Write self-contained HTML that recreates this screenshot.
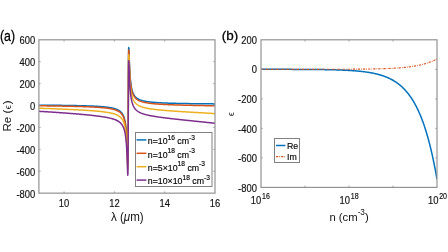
<!DOCTYPE html>
<html><head><meta charset="utf-8"><title>Figure</title>
<style>html,body{margin:0;padding:0;background:#fff;}svg{display:block;filter:blur(0.3px);}</style>
</head><body>
<svg width="448" height="252" viewBox="0 0 448 252" font-family="Liberation Sans, Arial, sans-serif">
<rect width="448" height="252" fill="#fff"/>
<clipPath id="ca"><rect x="38.9" y="39.8" width="176.1" height="153.35000000000002"/></clipPath>
<g clip-path="url(#ca)" fill="none" stroke-width="1.5" stroke-linejoin="round">
<path d="M38.90 105.17 L39.40 105.17 L39.91 105.17 L40.41 105.18 L40.91 105.18 L41.42 105.18 L41.92 105.19 L42.42 105.19 L42.93 105.19 L43.43 105.20 L43.93 105.20 L44.43 105.21 L44.94 105.21 L45.44 105.21 L45.94 105.22 L46.45 105.22 L46.95 105.23 L47.45 105.23 L47.96 105.23 L48.46 105.24 L48.96 105.24 L49.47 105.25 L49.97 105.25 L50.47 105.26 L50.98 105.26 L51.48 105.27 L51.98 105.27 L52.48 105.28 L52.99 105.28 L53.49 105.29 L53.99 105.29 L54.50 105.30 L55.00 105.30 L55.50 105.31 L56.01 105.31 L56.51 105.32 L57.01 105.32 L57.52 105.33 L58.02 105.33 L58.52 105.34 L59.03 105.34 L59.53 105.35 L60.03 105.36 L60.54 105.36 L61.04 105.37 L61.54 105.37 L62.04 105.38 L62.55 105.39 L63.05 105.39 L63.55 105.40 L64.06 105.41 L64.56 105.41 L65.06 105.42 L65.57 105.43 L66.07 105.43 L66.57 105.44 L67.08 105.45 L67.58 105.46 L68.08 105.46 L68.59 105.47 L69.09 105.48 L69.59 105.49 L70.09 105.50 L70.60 105.50 L71.10 105.51 L71.60 105.52 L72.11 105.53 L72.61 105.54 L73.11 105.55 L73.62 105.56 L74.12 105.57 L74.62 105.58 L75.13 105.59 L75.63 105.60 L76.13 105.61 L76.64 105.62 L77.14 105.63 L77.64 105.64 L78.15 105.65 L78.65 105.66 L79.15 105.67 L79.65 105.68 L80.16 105.69 L80.66 105.71 L81.16 105.72 L81.67 105.73 L82.17 105.74 L82.67 105.76 L83.18 105.77 L83.68 105.78 L84.18 105.80 L84.69 105.81 L85.19 105.83 L85.69 105.84 L86.20 105.86 L86.70 105.88 L87.20 105.89 L87.70 105.91 L88.21 105.93 L88.71 105.94 L89.21 105.96 L89.72 105.98 L90.22 106.00 L90.72 106.02 L91.23 106.04 L91.73 106.06 L92.23 106.08 L92.74 106.10 L93.24 106.12 L93.74 106.15 L94.25 106.17 L94.75 106.19 L95.25 106.22 L95.76 106.25 L96.26 106.27 L96.76 106.30 L97.26 106.33 L97.77 106.36 L98.27 106.39 L98.77 106.42 L99.28 106.45 L99.78 106.49 L100.28 106.52 L100.79 106.56 L101.29 106.60 L101.79 106.63 L102.30 106.68 L102.80 106.72 L103.30 106.76 L103.81 106.81 L104.31 106.85 L104.81 106.90 L105.31 106.96 L105.82 107.01 L106.32 107.07 L106.82 107.13 L107.33 107.19 L107.83 107.25 L108.33 107.32 L108.84 107.39 L109.34 107.47 L109.84 107.55 L110.35 107.63 L110.85 107.72 L111.35 107.82 L111.86 107.92 L112.36 108.02 L112.86 108.14 L113.37 108.26 L113.87 108.39 L114.37 108.53 L114.87 108.67 L115.38 108.84 L115.88 109.01 L116.38 109.20 L116.89 109.40 L117.39 109.63 L117.89 109.87 L118.40 110.14 L118.90 110.44 L119.40 110.77 L119.91 111.14 L120.41 111.56 L120.91 112.04 L121.42 112.58 L121.92 113.21 L122.35 113.83 L122.72 114.45 L123.05 115.06 L123.35 115.69 L123.63 116.34 L123.88 116.99 L124.11 117.65 L124.31 118.29 L124.48 118.91 L124.66 119.59 L124.81 120.21 L124.96 120.90 L125.09 121.51 L125.21 122.17 L125.34 122.89 L125.44 123.50 L125.54 124.15 L125.64 124.85 L125.74 125.60 L125.84 126.40 L125.92 127.04 L125.99 127.72 L126.07 128.44 L126.14 129.20 L126.22 130.01 L126.30 130.87 L126.35 131.48 L126.40 132.11 L126.45 132.76 L126.50 133.45 L126.55 134.17 L126.60 134.92 L126.65 135.71 L126.70 136.53 L126.75 137.39 L126.80 138.29 L126.85 139.24 L126.90 140.23 L126.95 141.27 L127.00 142.36 L127.05 143.50 L127.10 144.70 L127.13 145.32 L127.15 145.95 L127.18 146.59 L127.20 147.25 L127.23 147.92 L127.25 148.61 L127.28 149.31 L127.30 150.01 L127.33 150.73 L127.35 151.47 L127.38 152.21 L127.40 152.95 L127.43 153.71 L127.45 154.46 L127.48 155.22 L127.50 155.97 L127.53 156.72 L127.55 157.46 L127.58 158.18 L127.60 158.88 L127.63 159.54 L127.65 160.17 L127.70 161.27 L127.76 162.06 L127.91 161.06 L127.93 160.13 L127.96 158.90 L127.98 157.33 L128.01 155.39 L128.03 153.05 L128.06 150.28 L128.08 147.07 L128.11 143.40 L128.13 139.28 L128.16 134.71 L128.18 129.74 L128.21 124.40 L128.23 118.76 L128.26 112.91 L128.28 106.92 L128.31 100.90 L128.33 94.94 L128.36 89.14 L128.38 83.58 L128.41 78.34 L128.43 73.47 L128.46 69.03 L128.48 65.03 L128.51 61.49 L128.53 58.40 L128.56 55.75 L128.59 53.52 L128.61 51.68 L128.64 50.20 L128.66 49.05 L128.69 48.19 L128.71 47.59 L128.89 48.24 L128.94 49.35 L128.96 49.98 L128.99 50.65 L129.01 51.34 L129.04 52.06 L129.06 52.79 L129.09 53.53 L129.11 54.28 L129.14 55.03 L129.16 55.78 L129.19 56.52 L129.21 57.26 L129.24 57.99 L129.26 58.71 L129.29 59.42 L129.31 60.12 L129.34 60.81 L129.37 61.49 L129.39 62.15 L129.42 62.80 L129.44 63.43 L129.47 64.06 L129.49 64.67 L129.54 65.85 L129.59 66.97 L129.64 68.05 L129.69 69.08 L129.74 70.06 L129.79 70.99 L129.84 71.88 L129.89 72.74 L129.94 73.55 L129.99 74.33 L130.04 75.07 L130.09 75.78 L130.14 76.46 L130.20 77.11 L130.25 77.73 L130.32 78.62 L130.40 79.46 L130.47 80.24 L130.55 80.98 L130.62 81.68 L130.70 82.34 L130.77 82.97 L130.87 83.75 L130.98 84.48 L131.08 85.16 L131.18 85.80 L131.30 86.54 L131.43 87.23 L131.55 87.87 L131.70 88.57 L131.86 89.22 L132.01 89.82 L132.18 90.47 L132.38 91.14 L132.59 91.75 L132.81 92.38 L133.06 93.01 L133.34 93.63 L133.64 94.23 L133.99 94.86 L134.40 95.49 L134.85 96.11 L135.35 96.70 L135.86 97.22 L136.36 97.67 L136.86 98.07 L137.37 98.43 L137.87 98.75 L138.37 99.03 L138.87 99.29 L139.38 99.53 L139.88 99.75 L140.38 99.95 L140.89 100.13 L141.39 100.30 L141.89 100.45 L142.40 100.60 L142.90 100.73 L143.40 100.86 L143.91 100.98 L144.41 101.09 L144.91 101.19 L145.42 101.29 L145.92 101.38 L146.42 101.47 L146.92 101.55 L147.43 101.63 L147.93 101.71 L148.43 101.78 L148.94 101.84 L149.44 101.91 L149.94 101.97 L150.45 102.03 L150.95 102.08 L151.45 102.14 L151.96 102.19 L152.46 102.24 L152.96 102.28 L153.47 102.33 L153.97 102.37 L154.47 102.41 L154.98 102.45 L155.48 102.49 L155.98 102.53 L156.48 102.56 L156.99 102.60 L157.49 102.63 L157.99 102.66 L158.50 102.69 L159.00 102.72 L159.50 102.75 L160.01 102.78 L160.51 102.81 L161.01 102.84 L161.52 102.86 L162.02 102.89 L162.52 102.91 L163.03 102.93 L163.53 102.96 L164.03 102.98 L164.53 103.00 L165.04 103.02 L165.54 103.04 L166.04 103.06 L166.55 103.08 L167.05 103.10 L167.55 103.12 L168.06 103.14 L168.56 103.15 L169.06 103.17 L169.57 103.19 L170.07 103.20 L170.57 103.22 L171.08 103.23 L171.58 103.25 L172.08 103.26 L172.59 103.28 L173.09 103.29 L173.59 103.31 L174.09 103.32 L174.60 103.33 L175.10 103.35 L175.60 103.36 L176.11 103.37 L176.61 103.38 L177.11 103.39 L177.62 103.41 L178.12 103.42 L178.62 103.43 L179.13 103.44 L179.63 103.45 L180.13 103.46 L180.64 103.47 L181.14 103.48 L181.64 103.49 L182.14 103.50 L182.65 103.51 L183.15 103.52 L183.65 103.53 L184.16 103.54 L184.66 103.55 L185.16 103.56 L185.67 103.56 L186.17 103.57 L186.67 103.58 L187.18 103.59 L187.68 103.60 L188.18 103.60 L188.69 103.61 L189.19 103.62 L189.69 103.63 L190.20 103.63 L190.70 103.64 L191.20 103.65 L191.70 103.66 L192.21 103.66 L192.71 103.67 L193.21 103.68 L193.72 103.68 L194.22 103.69 L194.72 103.70 L195.23 103.70 L195.73 103.71 L196.23 103.71 L196.74 103.72 L197.24 103.73 L197.74 103.73 L198.25 103.74 L198.75 103.74 L199.25 103.75 L199.75 103.75 L200.26 103.76 L200.76 103.77 L201.26 103.77 L201.77 103.78 L202.27 103.78 L202.77 103.79 L203.28 103.79 L203.78 103.80 L204.28 103.80 L204.79 103.81 L205.29 103.81 L205.79 103.82 L206.30 103.82 L206.80 103.82 L207.30 103.83 L207.81 103.83 L208.31 103.84 L208.81 103.84 L209.31 103.85 L209.82 103.85 L210.32 103.85 L210.82 103.86 L211.33 103.86 L211.83 103.87 L212.33 103.87 L212.84 103.87 L213.34 103.88 L213.84 103.88 L214.35 103.89 L214.85 103.89 L215.00 103.89" stroke="#0072BD"/>
<path d="M38.90 105.77 L39.40 105.78 L39.91 105.79 L40.41 105.79 L40.91 105.80 L41.42 105.80 L41.92 105.81 L42.42 105.82 L42.93 105.82 L43.43 105.83 L43.93 105.84 L44.43 105.84 L44.94 105.85 L45.44 105.86 L45.94 105.86 L46.45 105.87 L46.95 105.88 L47.45 105.88 L47.96 105.89 L48.46 105.90 L48.96 105.91 L49.47 105.91 L49.97 105.92 L50.47 105.93 L50.98 105.93 L51.48 105.94 L51.98 105.95 L52.48 105.96 L52.99 105.97 L53.49 105.97 L53.99 105.98 L54.50 105.99 L55.00 106.00 L55.50 106.00 L56.01 106.01 L56.51 106.02 L57.01 106.03 L57.52 106.04 L58.02 106.05 L58.52 106.06 L59.03 106.06 L59.53 106.07 L60.03 106.08 L60.54 106.09 L61.04 106.10 L61.54 106.11 L62.04 106.12 L62.55 106.13 L63.05 106.14 L63.55 106.15 L64.06 106.16 L64.56 106.17 L65.06 106.18 L65.57 106.19 L66.07 106.20 L66.57 106.21 L67.08 106.22 L67.58 106.23 L68.08 106.24 L68.59 106.25 L69.09 106.26 L69.59 106.27 L70.09 106.28 L70.60 106.29 L71.10 106.30 L71.60 106.32 L72.11 106.33 L72.61 106.34 L73.11 106.35 L73.62 106.36 L74.12 106.38 L74.62 106.39 L75.13 106.40 L75.63 106.42 L76.13 106.43 L76.64 106.44 L77.14 106.46 L77.64 106.47 L78.15 106.48 L78.65 106.50 L79.15 106.51 L79.65 106.53 L80.16 106.54 L80.66 106.56 L81.16 106.57 L81.67 106.59 L82.17 106.61 L82.67 106.62 L83.18 106.64 L83.68 106.66 L84.18 106.67 L84.69 106.69 L85.19 106.71 L85.69 106.73 L86.20 106.75 L86.70 106.77 L87.20 106.78 L87.70 106.80 L88.21 106.83 L88.71 106.85 L89.21 106.87 L89.72 106.89 L90.22 106.91 L90.72 106.93 L91.23 106.96 L91.73 106.98 L92.23 107.01 L92.74 107.03 L93.24 107.06 L93.74 107.08 L94.25 107.11 L94.75 107.14 L95.25 107.17 L95.76 107.20 L96.26 107.23 L96.76 107.26 L97.26 107.29 L97.77 107.32 L98.27 107.36 L98.77 107.39 L99.28 107.43 L99.78 107.46 L100.28 107.50 L100.79 107.54 L101.29 107.58 L101.79 107.63 L102.30 107.67 L102.80 107.72 L103.30 107.76 L103.81 107.81 L104.31 107.86 L104.81 107.92 L105.31 107.97 L105.82 108.03 L106.32 108.09 L106.82 108.15 L107.33 108.22 L107.83 108.29 L108.33 108.36 L108.84 108.43 L109.34 108.51 L109.84 108.59 L110.35 108.68 L110.85 108.78 L111.35 108.87 L111.86 108.98 L112.36 109.09 L112.86 109.20 L113.37 109.33 L113.87 109.46 L114.37 109.60 L114.87 109.76 L115.38 109.92 L115.88 110.10 L116.38 110.29 L116.89 110.50 L117.39 110.73 L117.89 110.98 L118.40 111.25 L118.90 111.55 L119.40 111.89 L119.91 112.26 L120.41 112.69 L120.91 113.16 L121.42 113.71 L121.92 114.34 L122.35 114.96 L122.72 115.59 L123.05 116.20 L123.35 116.83 L123.63 117.49 L123.88 118.15 L124.11 118.82 L124.31 119.47 L124.48 120.10 L124.66 120.79 L124.81 121.44 L124.96 122.14 L125.09 122.77 L125.21 123.46 L125.34 124.20 L125.44 124.84 L125.54 125.52 L125.64 126.25 L125.74 127.03 L125.82 127.65 L125.89 128.31 L125.97 129.00 L126.04 129.74 L126.12 130.52 L126.20 131.35 L126.27 132.23 L126.32 132.84 L126.37 133.48 L126.42 134.15 L126.47 134.85 L126.52 135.58 L126.57 136.34 L126.62 137.14 L126.67 137.97 L126.72 138.84 L126.77 139.75 L126.82 140.70 L126.87 141.70 L126.92 142.75 L126.98 143.84 L127.03 144.98 L127.08 146.18 L127.10 146.80 L127.13 147.43 L127.15 148.07 L127.18 148.73 L127.20 149.40 L127.23 150.09 L127.25 150.79 L127.28 151.50 L127.30 152.22 L127.33 152.95 L127.35 153.70 L127.38 154.45 L127.40 155.21 L127.43 155.97 L127.45 156.74 L127.48 157.51 L127.50 158.28 L127.53 159.04 L127.55 159.78 L127.58 160.51 L127.60 161.22 L127.63 161.90 L127.65 162.54 L127.70 163.65 L127.76 164.46 L127.91 163.50 L127.93 162.58 L127.96 161.35 L127.98 159.79 L128.01 157.86 L128.03 155.52 L128.06 152.76 L128.08 149.55 L128.11 145.89 L128.13 141.76 L128.16 137.20 L128.18 132.23 L128.21 126.89 L128.23 121.26 L128.26 115.40 L128.28 109.41 L128.31 103.39 L128.33 97.43 L128.36 91.63 L128.38 86.07 L128.41 80.83 L128.43 75.96 L128.46 71.52 L128.48 67.51 L128.51 63.97 L128.53 60.88 L128.56 58.22 L128.59 55.99 L128.61 54.15 L128.64 52.66 L128.66 51.51 L128.69 50.64 L128.71 50.03 L128.89 50.63 L128.94 51.72 L128.96 52.34 L128.99 53.00 L129.01 53.68 L129.04 54.39 L129.06 55.11 L129.09 55.84 L129.11 56.58 L129.14 57.32 L129.16 58.05 L129.19 58.79 L129.21 59.51 L129.24 60.23 L129.26 60.94 L129.29 61.64 L129.31 62.33 L129.34 63.00 L129.37 63.66 L129.39 64.31 L129.42 64.95 L129.44 65.57 L129.47 66.18 L129.52 67.36 L129.57 68.49 L129.62 69.56 L129.67 70.58 L129.72 71.56 L129.77 72.49 L129.82 73.38 L129.87 74.22 L129.92 75.02 L129.97 75.79 L130.02 76.53 L130.07 77.23 L130.12 77.89 L130.17 78.53 L130.22 79.15 L130.30 80.02 L130.37 80.83 L130.45 81.60 L130.52 82.32 L130.60 83.00 L130.67 83.65 L130.75 84.26 L130.85 85.02 L130.95 85.73 L131.05 86.40 L131.15 87.02 L131.28 87.75 L131.40 88.42 L131.53 89.05 L131.68 89.74 L131.83 90.39 L132.01 91.08 L132.18 91.71 L132.38 92.37 L132.59 92.98 L132.81 93.60 L133.06 94.23 L133.34 94.85 L133.64 95.45 L133.99 96.08 L134.40 96.72 L134.85 97.34 L135.35 97.93 L135.86 98.46 L136.36 98.91 L136.86 99.32 L137.37 99.68 L137.87 100.00 L138.37 100.29 L138.87 100.56 L139.38 100.80 L139.88 101.02 L140.38 101.22 L140.89 101.41 L141.39 101.58 L141.89 101.74 L142.40 101.89 L142.90 102.03 L143.40 102.16 L143.91 102.28 L144.41 102.39 L144.91 102.50 L145.42 102.60 L145.92 102.70 L146.42 102.79 L146.92 102.88 L147.43 102.96 L147.93 103.04 L148.43 103.11 L148.94 103.18 L149.44 103.25 L149.94 103.32 L150.45 103.38 L150.95 103.44 L151.45 103.50 L151.96 103.55 L152.46 103.60 L152.96 103.65 L153.47 103.70 L153.97 103.75 L154.47 103.80 L154.98 103.84 L155.48 103.88 L155.98 103.92 L156.48 103.96 L156.99 104.00 L157.49 104.04 L157.99 104.08 L158.50 104.11 L159.00 104.15 L159.50 104.18 L160.01 104.21 L160.51 104.24 L161.01 104.27 L161.52 104.30 L162.02 104.33 L162.52 104.36 L163.03 104.39 L163.53 104.42 L164.03 104.44 L164.53 104.47 L165.04 104.49 L165.54 104.52 L166.04 104.54 L166.55 104.56 L167.05 104.59 L167.55 104.61 L168.06 104.63 L168.56 104.65 L169.06 104.68 L169.57 104.70 L170.07 104.72 L170.57 104.74 L171.08 104.76 L171.58 104.78 L172.08 104.80 L172.59 104.81 L173.09 104.83 L173.59 104.85 L174.09 104.87 L174.60 104.89 L175.10 104.90 L175.60 104.92 L176.11 104.94 L176.61 104.95 L177.11 104.97 L177.62 104.98 L178.12 105.00 L178.62 105.02 L179.13 105.03 L179.63 105.05 L180.13 105.06 L180.64 105.08 L181.14 105.09 L181.64 105.10 L182.14 105.12 L182.65 105.13 L183.15 105.15 L183.65 105.16 L184.16 105.17 L184.66 105.19 L185.16 105.20 L185.67 105.21 L186.17 105.23 L186.67 105.24 L187.18 105.25 L187.68 105.26 L188.18 105.28 L188.69 105.29 L189.19 105.30 L189.69 105.31 L190.20 105.32 L190.70 105.34 L191.20 105.35 L191.70 105.36 L192.21 105.37 L192.71 105.38 L193.21 105.39 L193.72 105.40 L194.22 105.41 L194.72 105.43 L195.23 105.44 L195.73 105.45 L196.23 105.46 L196.74 105.47 L197.24 105.48 L197.74 105.49 L198.25 105.50 L198.75 105.51 L199.25 105.52 L199.75 105.53 L200.26 105.54 L200.76 105.55 L201.26 105.56 L201.77 105.57 L202.27 105.58 L202.77 105.59 L203.28 105.60 L203.78 105.61 L204.28 105.62 L204.79 105.63 L205.29 105.64 L205.79 105.65 L206.30 105.66 L206.80 105.67 L207.30 105.67 L207.81 105.68 L208.31 105.69 L208.81 105.70 L209.31 105.71 L209.82 105.72 L210.32 105.73 L210.82 105.74 L211.33 105.75 L211.83 105.76 L212.33 105.76 L212.84 105.77 L213.34 105.78 L213.84 105.79 L214.35 105.80 L214.85 105.81 L215.00 105.81" stroke="#D95319"/>
<path d="M38.90 108.23 L39.40 108.24 L39.91 108.26 L40.41 108.28 L40.91 108.29 L41.42 108.31 L41.92 108.33 L42.42 108.35 L42.93 108.36 L43.43 108.38 L43.93 108.40 L44.43 108.42 L44.94 108.43 L45.44 108.45 L45.94 108.47 L46.45 108.49 L46.95 108.51 L47.45 108.53 L47.96 108.54 L48.46 108.56 L48.96 108.58 L49.47 108.60 L49.97 108.62 L50.47 108.64 L50.98 108.66 L51.48 108.67 L51.98 108.69 L52.48 108.71 L52.99 108.73 L53.49 108.75 L53.99 108.77 L54.50 108.79 L55.00 108.81 L55.50 108.83 L56.01 108.85 L56.51 108.87 L57.01 108.89 L57.52 108.91 L58.02 108.93 L58.52 108.95 L59.03 108.97 L59.53 108.99 L60.03 109.01 L60.54 109.03 L61.04 109.05 L61.54 109.08 L62.04 109.10 L62.55 109.12 L63.05 109.14 L63.55 109.16 L64.06 109.18 L64.56 109.21 L65.06 109.23 L65.57 109.25 L66.07 109.27 L66.57 109.29 L67.08 109.32 L67.58 109.34 L68.08 109.36 L68.59 109.39 L69.09 109.41 L69.59 109.43 L70.09 109.46 L70.60 109.48 L71.10 109.50 L71.60 109.53 L72.11 109.55 L72.61 109.58 L73.11 109.60 L73.62 109.63 L74.12 109.65 L74.62 109.68 L75.13 109.70 L75.63 109.73 L76.13 109.75 L76.64 109.78 L77.14 109.81 L77.64 109.83 L78.15 109.86 L78.65 109.89 L79.15 109.91 L79.65 109.94 L80.16 109.97 L80.66 110.00 L81.16 110.03 L81.67 110.06 L82.17 110.08 L82.67 110.11 L83.18 110.14 L83.68 110.17 L84.18 110.20 L84.69 110.24 L85.19 110.27 L85.69 110.30 L86.20 110.33 L86.70 110.36 L87.20 110.40 L87.70 110.43 L88.21 110.46 L88.71 110.50 L89.21 110.53 L89.72 110.57 L90.22 110.60 L90.72 110.64 L91.23 110.67 L91.73 110.71 L92.23 110.75 L92.74 110.79 L93.24 110.83 L93.74 110.87 L94.25 110.91 L94.75 110.95 L95.25 110.99 L95.76 111.03 L96.26 111.08 L96.76 111.12 L97.26 111.17 L97.77 111.22 L98.27 111.26 L98.77 111.31 L99.28 111.36 L99.78 111.41 L100.28 111.46 L100.79 111.52 L101.29 111.57 L101.79 111.63 L102.30 111.69 L102.80 111.75 L103.30 111.81 L103.81 111.87 L104.31 111.94 L104.81 112.00 L105.31 112.07 L105.82 112.14 L106.32 112.22 L106.82 112.30 L107.33 112.38 L107.83 112.46 L108.33 112.54 L108.84 112.63 L109.34 112.73 L109.84 112.82 L110.35 112.93 L110.85 113.03 L111.35 113.15 L111.86 113.26 L112.36 113.39 L112.86 113.52 L113.37 113.66 L113.87 113.81 L114.37 113.96 L114.87 114.13 L115.38 114.31 L115.88 114.50 L116.38 114.71 L116.89 114.93 L117.39 115.17 L117.89 115.44 L118.40 115.73 L118.90 116.04 L119.40 116.39 L119.91 116.78 L120.41 117.22 L120.91 117.71 L121.42 118.28 L121.89 118.89 L122.32 119.52 L122.70 120.15 L123.03 120.76 L123.33 121.40 L123.60 122.06 L123.86 122.72 L124.08 123.38 L124.28 124.04 L124.46 124.66 L124.64 125.35 L124.79 125.99 L124.94 126.69 L125.06 127.32 L125.19 127.99 L125.31 128.73 L125.42 129.36 L125.52 130.03 L125.62 130.75 L125.72 131.52 L125.79 132.13 L125.87 132.78 L125.94 133.47 L126.02 134.19 L126.09 134.96 L126.17 135.77 L126.25 136.64 L126.30 137.24 L126.35 137.87 L126.40 138.53 L126.45 139.21 L126.50 139.93 L126.55 140.68 L126.60 141.46 L126.65 142.27 L126.70 143.12 L126.75 144.02 L126.80 144.95 L126.85 145.92 L126.90 146.95 L126.95 148.02 L127.00 149.14 L127.05 150.31 L127.08 150.91 L127.10 151.53 L127.13 152.16 L127.15 152.81 L127.18 153.47 L127.20 154.14 L127.23 154.83 L127.25 155.53 L127.28 156.24 L127.30 156.96 L127.33 157.70 L127.35 158.44 L127.38 159.19 L127.40 159.95 L127.43 160.72 L127.45 161.49 L127.48 162.26 L127.50 163.02 L127.53 163.78 L127.55 164.53 L127.58 165.26 L127.60 165.97 L127.63 166.65 L127.65 167.29 L127.70 168.40 L127.76 169.21 L127.91 168.26 L127.93 167.34 L127.96 166.11 L127.98 164.55 L128.01 162.62 L128.03 160.29 L128.06 157.52 L128.08 154.32 L128.11 150.65 L128.13 146.53 L128.16 141.97 L128.18 136.99 L128.21 131.66 L128.23 126.02 L128.26 120.17 L128.28 114.18 L128.31 108.16 L128.33 102.20 L128.36 96.40 L128.38 90.84 L128.41 85.60 L128.43 80.74 L128.46 76.29 L128.48 72.29 L128.51 68.75 L128.53 65.65 L128.56 63.00 L128.59 60.77 L128.61 58.93 L128.64 57.45 L128.66 56.29 L128.69 55.42 L128.71 54.81 L128.89 55.42 L128.94 56.51 L128.96 57.13 L128.99 57.79 L129.01 58.48 L129.04 59.18 L129.06 59.90 L129.09 60.64 L129.11 61.37 L129.14 62.11 L129.16 62.85 L129.19 63.58 L129.21 64.31 L129.24 65.03 L129.26 65.74 L129.29 66.44 L129.31 67.13 L129.34 67.80 L129.37 68.47 L129.39 69.12 L129.42 69.76 L129.44 70.38 L129.47 70.99 L129.52 72.17 L129.57 73.30 L129.62 74.37 L129.67 75.40 L129.72 76.37 L129.77 77.31 L129.82 78.19 L129.87 79.04 L129.92 79.85 L129.97 80.61 L130.02 81.35 L130.07 82.05 L130.12 82.72 L130.17 83.36 L130.22 83.98 L130.30 84.85 L130.37 85.67 L130.45 86.44 L130.52 87.16 L130.60 87.85 L130.67 88.49 L130.75 89.10 L130.85 89.87 L130.95 90.58 L131.05 91.25 L131.15 91.88 L131.28 92.61 L131.40 93.28 L131.53 93.92 L131.68 94.62 L131.83 95.26 L131.98 95.87 L132.16 96.51 L132.36 97.19 L132.56 97.81 L132.79 98.44 L133.04 99.08 L133.31 99.72 L133.62 100.34 L133.94 100.94 L134.32 101.56 L134.75 102.17 L135.23 102.78 L135.73 103.33 L136.23 103.82 L136.74 104.25 L137.24 104.64 L137.74 104.98 L138.25 105.30 L138.75 105.58 L139.25 105.85 L139.75 106.09 L140.26 106.31 L140.76 106.52 L141.26 106.71 L141.77 106.89 L142.27 107.05 L142.77 107.21 L143.28 107.36 L143.78 107.50 L144.28 107.63 L144.79 107.76 L145.29 107.88 L145.79 107.99 L146.30 108.10 L146.80 108.20 L147.30 108.30 L147.81 108.40 L148.31 108.49 L148.81 108.58 L149.31 108.66 L149.82 108.74 L150.32 108.82 L150.82 108.90 L151.33 108.97 L151.83 109.05 L152.33 109.12 L152.84 109.18 L153.34 109.25 L153.84 109.31 L154.35 109.38 L154.85 109.44 L155.35 109.50 L155.86 109.55 L156.36 109.61 L156.86 109.67 L157.36 109.72 L157.87 109.77 L158.37 109.83 L158.87 109.88 L159.38 109.93 L159.88 109.98 L160.38 110.03 L160.89 110.07 L161.39 110.12 L161.89 110.17 L162.40 110.21 L162.90 110.26 L163.40 110.30 L163.91 110.34 L164.41 110.39 L164.91 110.43 L165.42 110.47 L165.92 110.51 L166.42 110.55 L166.92 110.59 L167.43 110.63 L167.93 110.67 L168.43 110.71 L168.94 110.75 L169.44 110.79 L169.94 110.82 L170.45 110.86 L170.95 110.90 L171.45 110.94 L171.96 110.97 L172.46 111.01 L172.96 111.04 L173.47 111.08 L173.97 111.11 L174.47 111.15 L174.97 111.18 L175.48 111.22 L175.98 111.25 L176.48 111.29 L176.99 111.32 L177.49 111.35 L177.99 111.39 L178.50 111.42 L179.00 111.45 L179.50 111.49 L180.01 111.52 L180.51 111.55 L181.01 111.58 L181.52 111.62 L182.02 111.65 L182.52 111.68 L183.03 111.71 L183.53 111.74 L184.03 111.77 L184.53 111.81 L185.04 111.84 L185.54 111.87 L186.04 111.90 L186.55 111.93 L187.05 111.96 L187.55 111.99 L188.06 112.02 L188.56 112.05 L189.06 112.08 L189.57 112.11 L190.07 112.14 L190.57 112.17 L191.08 112.20 L191.58 112.23 L192.08 112.26 L192.58 112.29 L193.09 112.32 L193.59 112.35 L194.09 112.38 L194.60 112.41 L195.10 112.44 L195.60 112.47 L196.11 112.50 L196.61 112.52 L197.11 112.55 L197.62 112.58 L198.12 112.61 L198.62 112.64 L199.13 112.67 L199.63 112.70 L200.13 112.73 L200.64 112.76 L201.14 112.78 L201.64 112.81 L202.14 112.84 L202.65 112.87 L203.15 112.90 L203.65 112.93 L204.16 112.95 L204.66 112.98 L205.16 113.01 L205.67 113.04 L206.17 113.07 L206.67 113.10 L207.18 113.12 L207.68 113.15 L208.18 113.18 L208.69 113.21 L209.19 113.24 L209.69 113.26 L210.19 113.29 L210.70 113.32 L211.20 113.35 L211.70 113.38 L212.21 113.41 L212.71 113.43 L213.21 113.46 L213.72 113.49 L214.22 113.52 L214.72 113.54 L215.00 113.56" stroke="#EDB120"/>
<path d="M38.90 111.29 L39.40 111.32 L39.91 111.35 L40.41 111.38 L40.91 111.41 L41.42 111.45 L41.92 111.48 L42.42 111.51 L42.93 111.54 L43.43 111.57 L43.93 111.60 L44.43 111.63 L44.94 111.67 L45.44 111.70 L45.94 111.73 L46.45 111.76 L46.95 111.79 L47.45 111.83 L47.96 111.86 L48.46 111.89 L48.96 111.92 L49.47 111.96 L49.97 111.99 L50.47 112.02 L50.98 112.06 L51.48 112.09 L51.98 112.12 L52.48 112.16 L52.99 112.19 L53.49 112.22 L53.99 112.26 L54.50 112.29 L55.00 112.33 L55.50 112.36 L56.01 112.40 L56.51 112.43 L57.01 112.47 L57.52 112.50 L58.02 112.54 L58.52 112.57 L59.03 112.61 L59.53 112.64 L60.03 112.68 L60.54 112.71 L61.04 112.75 L61.54 112.78 L62.04 112.82 L62.55 112.86 L63.05 112.89 L63.55 112.93 L64.06 112.97 L64.56 113.00 L65.06 113.04 L65.57 113.08 L66.07 113.12 L66.57 113.15 L67.08 113.19 L67.58 113.23 L68.08 113.27 L68.59 113.31 L69.09 113.35 L69.59 113.39 L70.09 113.42 L70.60 113.46 L71.10 113.50 L71.60 113.54 L72.11 113.58 L72.61 113.62 L73.11 113.66 L73.62 113.70 L74.12 113.74 L74.62 113.79 L75.13 113.83 L75.63 113.87 L76.13 113.91 L76.64 113.95 L77.14 113.99 L77.64 114.04 L78.15 114.08 L78.65 114.12 L79.15 114.17 L79.65 114.21 L80.16 114.25 L80.66 114.30 L81.16 114.34 L81.67 114.39 L82.17 114.43 L82.67 114.48 L83.18 114.53 L83.68 114.57 L84.18 114.62 L84.69 114.67 L85.19 114.71 L85.69 114.76 L86.20 114.81 L86.70 114.86 L87.20 114.91 L87.70 114.96 L88.21 115.01 L88.71 115.06 L89.21 115.11 L89.72 115.16 L90.22 115.21 L90.72 115.27 L91.23 115.32 L91.73 115.37 L92.23 115.43 L92.74 115.48 L93.24 115.54 L93.74 115.60 L94.25 115.66 L94.75 115.71 L95.25 115.77 L95.76 115.83 L96.26 115.89 L96.76 115.96 L97.26 116.02 L97.77 116.08 L98.27 116.15 L98.77 116.21 L99.28 116.28 L99.78 116.35 L100.28 116.42 L100.79 116.49 L101.29 116.56 L101.79 116.63 L102.30 116.71 L102.80 116.79 L103.30 116.87 L103.81 116.95 L104.31 117.03 L104.81 117.11 L105.31 117.20 L105.82 117.29 L106.32 117.38 L106.82 117.48 L107.33 117.57 L107.83 117.67 L108.33 117.78 L108.84 117.89 L109.34 118.00 L109.84 118.11 L110.35 118.23 L110.85 118.36 L111.35 118.49 L111.86 118.62 L112.36 118.77 L112.86 118.92 L113.37 119.07 L113.87 119.24 L114.37 119.41 L114.87 119.60 L115.38 119.80 L115.88 120.01 L116.38 120.23 L116.89 120.47 L117.39 120.73 L117.89 121.02 L118.40 121.32 L118.90 121.66 L119.40 122.03 L119.91 122.44 L120.41 122.89 L120.91 123.40 L121.42 123.98 L121.89 124.61 L122.30 125.22 L122.67 125.86 L123.00 126.48 L123.30 127.12 L123.58 127.78 L123.83 128.45 L124.06 129.11 L124.26 129.76 L124.43 130.39 L124.61 131.07 L124.76 131.71 L124.91 132.40 L125.04 133.03 L125.16 133.70 L125.29 134.43 L125.39 135.05 L125.49 135.72 L125.59 136.43 L125.69 137.19 L125.77 137.79 L125.84 138.43 L125.92 139.11 L125.99 139.82 L126.07 140.58 L126.14 141.38 L126.22 142.23 L126.30 143.13 L126.35 143.76 L126.40 144.42 L126.45 145.11 L126.50 145.83 L126.55 146.57 L126.60 147.36 L126.65 148.17 L126.70 149.03 L126.75 149.92 L126.80 150.86 L126.85 151.83 L126.90 152.86 L126.95 153.93 L127.00 155.05 L127.05 156.23 L127.08 156.83 L127.10 157.45 L127.13 158.08 L127.15 158.73 L127.18 159.39 L127.20 160.07 L127.23 160.75 L127.25 161.45 L127.28 162.16 L127.30 162.89 L127.33 163.62 L127.35 164.37 L127.38 165.12 L127.40 165.88 L127.43 166.65 L127.45 167.42 L127.48 168.19 L127.50 168.96 L127.53 169.72 L127.55 170.47 L127.58 171.20 L127.60 171.91 L127.63 172.59 L127.65 173.23 L127.70 174.34 L127.76 175.16 L127.91 174.21 L127.93 173.29 L127.96 172.07 L127.98 170.50 L128.01 168.57 L128.03 166.24 L128.06 163.48 L128.08 160.27 L128.11 156.61 L128.13 152.49 L128.16 147.92 L128.18 142.95 L128.21 137.62 L128.23 131.99 L128.26 126.13 L128.28 120.15 L128.31 114.13 L128.33 108.17 L128.36 102.37 L128.38 96.81 L128.41 91.57 L128.43 86.71 L128.46 82.26 L128.48 78.26 L128.51 74.72 L128.53 71.63 L128.56 68.98 L128.59 66.75 L128.61 64.90 L128.64 63.42 L128.66 62.27 L128.69 61.40 L128.71 60.79 L128.89 61.41 L128.94 62.50 L128.96 63.12 L128.99 63.78 L129.01 64.47 L129.04 65.18 L129.06 65.90 L129.09 66.63 L129.11 67.37 L129.14 68.11 L129.16 68.85 L129.19 69.58 L129.21 70.31 L129.24 71.03 L129.26 71.74 L129.29 72.44 L129.31 73.13 L129.34 73.81 L129.37 74.47 L129.39 75.12 L129.42 75.76 L129.44 76.39 L129.47 77.00 L129.52 78.18 L129.57 79.31 L129.62 80.39 L129.67 81.41 L129.72 82.39 L129.77 83.33 L129.82 84.21 L129.87 85.06 L129.92 85.87 L129.97 86.64 L130.02 87.38 L130.07 88.08 L130.12 88.75 L130.17 89.40 L130.22 90.01 L130.30 90.89 L130.37 91.71 L130.45 92.48 L130.52 93.21 L130.60 93.90 L130.67 94.55 L130.75 95.16 L130.85 95.93 L130.95 96.65 L131.05 97.32 L131.15 97.95 L131.28 98.68 L131.40 99.37 L131.53 100.00 L131.68 100.71 L131.83 101.36 L131.98 101.97 L132.16 102.62 L132.33 103.23 L132.53 103.86 L132.76 104.51 L133.01 105.17 L133.29 105.82 L133.59 106.46 L133.92 107.08 L134.30 107.71 L134.70 108.31 L135.18 108.94 L135.68 109.52 L136.18 110.04 L136.69 110.49 L137.19 110.90 L137.69 111.27 L138.20 111.61 L138.70 111.92 L139.20 112.20 L139.70 112.47 L140.21 112.71 L140.71 112.94 L141.21 113.15 L141.72 113.35 L142.22 113.54 L142.72 113.72 L143.23 113.89 L143.73 114.05 L144.23 114.20 L144.74 114.35 L145.24 114.49 L145.74 114.62 L146.25 114.75 L146.75 114.87 L147.25 114.99 L147.75 115.11 L148.26 115.22 L148.76 115.33 L149.26 115.44 L149.77 115.54 L150.27 115.64 L150.77 115.74 L151.28 115.83 L151.78 115.92 L152.28 116.01 L152.79 116.10 L153.29 116.19 L153.79 116.27 L154.30 116.36 L154.80 116.44 L155.30 116.52 L155.81 116.60 L156.31 116.67 L156.81 116.75 L157.31 116.83 L157.82 116.90 L158.32 116.97 L158.82 117.04 L159.33 117.12 L159.83 117.19 L160.33 117.26 L160.84 117.32 L161.34 117.39 L161.84 117.46 L162.35 117.53 L162.85 117.59 L163.35 117.66 L163.86 117.72 L164.36 117.79 L164.86 117.85 L165.36 117.91 L165.87 117.97 L166.37 118.04 L166.87 118.10 L167.38 118.16 L167.88 118.22 L168.38 118.28 L168.89 118.34 L169.39 118.40 L169.89 118.46 L170.40 118.52 L170.90 118.58 L171.40 118.64 L171.91 118.69 L172.41 118.75 L172.91 118.81 L173.42 118.87 L173.92 118.92 L174.42 118.98 L174.92 119.04 L175.43 119.09 L175.93 119.15 L176.43 119.20 L176.94 119.26 L177.44 119.32 L177.94 119.37 L178.45 119.43 L178.95 119.48 L179.45 119.54 L179.96 119.59 L180.46 119.65 L180.96 119.70 L181.47 119.75 L181.97 119.81 L182.47 119.86 L182.97 119.92 L183.48 119.97 L183.98 120.02 L184.48 120.08 L184.99 120.13 L185.49 120.18 L185.99 120.24 L186.50 120.29 L187.00 120.34 L187.50 120.40 L188.01 120.45 L188.51 120.50 L189.01 120.56 L189.52 120.61 L190.02 120.66 L190.52 120.71 L191.03 120.77 L191.53 120.82 L192.03 120.87 L192.53 120.92 L193.04 120.98 L193.54 121.03 L194.04 121.08 L194.55 121.13 L195.05 121.19 L195.55 121.24 L196.06 121.29 L196.56 121.34 L197.06 121.39 L197.57 121.45 L198.07 121.50 L198.57 121.55 L199.08 121.60 L199.58 121.66 L200.08 121.71 L200.58 121.76 L201.09 121.81 L201.59 121.86 L202.09 121.92 L202.60 121.97 L203.10 122.02 L203.60 122.07 L204.11 122.12 L204.61 122.17 L205.11 122.23 L205.62 122.28 L206.12 122.33 L206.62 122.38 L207.13 122.43 L207.63 122.49 L208.13 122.54 L208.64 122.59 L209.14 122.64 L209.64 122.69 L210.14 122.75 L210.65 122.80 L211.15 122.85 L211.65 122.90 L212.16 122.95 L212.66 123.01 L213.16 123.06 L213.67 123.11 L214.17 123.16 L214.67 123.21 L215.00 123.25" stroke="#7E2F8E"/>
</g>
<rect x="38.9" y="39.8" width="176.1" height="153.35000000000002" fill="none" stroke="#939393" stroke-width="1.2"/>
<path d="M64.06 193.15 v-1.8 M64.06 39.8 v1.8 M114.37 193.15 v-1.8 M114.37 39.8 v1.8 M164.69 193.15 v-1.8 M164.69 39.8 v1.8 M38.9 61.71 h1.8 M215.0 61.71 h-1.8 M38.9 83.61 h1.8 M215.0 83.61 h-1.8 M38.9 105.52 h1.8 M215.0 105.52 h-1.8 M38.9 127.43 h1.8 M215.0 127.43 h-1.8 M38.9 149.34 h1.8 M215.0 149.34 h-1.8 M38.9 171.24 h1.8 M215.0 171.24 h-1.8" stroke="#939393" stroke-width="0.8" fill="none"/>
<g font-size="9.7" fill="#111" stroke="#111" stroke-width="0.15">
<text transform="translate(64.06 206.9) scale(0.97 1.12)" text-anchor="middle">10</text>
<text transform="translate(114.37 206.9) scale(0.97 1.12)" text-anchor="middle">12</text>
<text transform="translate(164.69 206.9) scale(0.97 1.12)" text-anchor="middle">14</text>
<text transform="translate(215.00 206.9) scale(0.97 1.12)" text-anchor="middle">16</text>
<text transform="translate(35.2 43.90) scale(0.97 1.12)" text-anchor="end">600</text>
<text transform="translate(35.2 65.91) scale(0.97 1.12)" text-anchor="end">400</text>
<text transform="translate(35.2 87.91) scale(0.97 1.12)" text-anchor="end">200</text>
<text transform="translate(35.2 109.92) scale(0.97 1.12)" text-anchor="end">0</text>
<text transform="translate(35.2 131.93) scale(0.97 1.12)" text-anchor="end">-200</text>
<text transform="translate(35.2 153.94) scale(0.97 1.12)" text-anchor="end">-400</text>
<text transform="translate(35.2 175.94) scale(0.97 1.12)" text-anchor="end">-600</text>
<text transform="translate(35.2 197.95) scale(0.97 1.12)" text-anchor="end">-800</text>
</g>
<text transform="translate(127.3 220.9) scale(1 1.1)" font-size="11.6" text-anchor="middle" fill="#111">λ (<tspan font-style="italic">μ</tspan>m)</text>
<text transform="translate(11.1 116.0) rotate(-90)" font-size="11.6" text-anchor="middle" fill="#111">Re (<tspan font-size="9.6" dx="0.5">ϵ</tspan><tspan dx="0.6">)</tspan></text>
<text transform="translate(0.0 40.7) scale(0.93 1.04)" font-size="13.3" fill="#000" stroke="#000" stroke-width="0.25">(a)</text>
<rect x="135.5" y="132.5" width="76.5" height="54" fill="#fff" stroke="#808080" stroke-width="1"/>
<path d="M136.6 139.90 H146.4" stroke="#0072BD" stroke-width="1.5"/>
<text transform="translate(147.8 144.20) scale(1 1.08)" font-size="8.8" fill="#000" stroke="#000" stroke-width="0.15">n=10<tspan font-size="6.6" dy="-4.2">16</tspan><tspan dy="4.2"> cm</tspan><tspan font-size="6.6" dy="-4.2">-3</tspan></text>
<path d="M136.6 153.30 H146.4" stroke="#D95319" stroke-width="1.5"/>
<text transform="translate(147.8 157.60) scale(1 1.08)" font-size="8.8" fill="#000" stroke="#000" stroke-width="0.15">n=10<tspan font-size="6.6" dy="-4.2">18</tspan><tspan dy="4.2"> cm</tspan><tspan font-size="6.6" dy="-4.2">-3</tspan></text>
<path d="M136.6 166.70 H146.4" stroke="#EDB120" stroke-width="1.5"/>
<text transform="translate(147.8 171.00) scale(1 1.08)" font-size="8.8" fill="#000" stroke="#000" stroke-width="0.15">n=5×10<tspan font-size="6.6" dy="-4.2">18</tspan><tspan dy="4.2"> cm</tspan><tspan font-size="6.6" dy="-4.2">-3</tspan></text>
<path d="M136.6 180.10 H146.4" stroke="#7E2F8E" stroke-width="1.5"/>
<text transform="translate(147.8 184.40) scale(1 1.08)" font-size="8.8" fill="#000" stroke="#000" stroke-width="0.15">n=10×10<tspan font-size="6.6" dy="-4.2">18</tspan><tspan dy="4.2"> cm</tspan><tspan font-size="6.6" dy="-4.2">-3</tspan></text>
<clipPath id="cb"><rect x="261.0" y="39.8" width="176.0" height="147.60000000000002"/></clipPath>
<g clip-path="url(#cb)" fill="none" stroke-linejoin="round">
<path d="M261.00 69.33 L261.44 69.33 L261.88 69.33 L262.32 69.33 L262.76 69.33 L263.21 69.33 L263.65 69.33 L264.09 69.33 L264.53 69.33 L264.97 69.33 L265.41 69.33 L265.85 69.33 L266.29 69.33 L266.73 69.33 L267.18 69.34 L267.62 69.34 L268.06 69.34 L268.50 69.34 L268.94 69.34 L269.38 69.34 L269.82 69.34 L270.26 69.34 L270.70 69.34 L271.15 69.34 L271.59 69.34 L272.03 69.34 L272.47 69.34 L272.91 69.34 L273.35 69.34 L273.79 69.34 L274.23 69.34 L274.67 69.34 L275.12 69.34 L275.56 69.34 L276.00 69.34 L276.44 69.34 L276.88 69.35 L277.32 69.35 L277.76 69.35 L278.20 69.35 L278.64 69.35 L279.09 69.35 L279.53 69.35 L279.97 69.35 L280.41 69.35 L280.85 69.35 L281.29 69.35 L281.73 69.35 L282.17 69.35 L282.61 69.35 L283.06 69.35 L283.50 69.36 L283.94 69.36 L284.38 69.36 L284.82 69.36 L285.26 69.36 L285.70 69.36 L286.14 69.36 L286.58 69.36 L287.03 69.36 L287.47 69.36 L287.91 69.36 L288.35 69.37 L288.79 69.37 L289.23 69.37 L289.67 69.37 L290.11 69.37 L290.55 69.37 L290.99 69.37 L291.44 69.37 L291.88 69.38 L292.32 69.38 L292.76 69.38 L293.20 69.38 L293.64 69.38 L294.08 69.38 L294.52 69.38 L294.96 69.39 L295.41 69.39 L295.85 69.39 L296.29 69.39 L296.73 69.39 L297.17 69.39 L297.61 69.39 L298.05 69.40 L298.49 69.40 L298.93 69.40 L299.38 69.40 L299.82 69.40 L300.26 69.41 L300.70 69.41 L301.14 69.41 L301.58 69.41 L302.02 69.41 L302.46 69.42 L302.90 69.42 L303.35 69.42 L303.79 69.42 L304.23 69.43 L304.67 69.43 L305.11 69.43 L305.55 69.43 L305.99 69.44 L306.43 69.44 L306.87 69.44 L307.32 69.44 L307.76 69.45 L308.20 69.45 L308.64 69.45 L309.08 69.46 L309.52 69.46 L309.96 69.46 L310.40 69.47 L310.84 69.47 L311.29 69.47 L311.73 69.48 L312.17 69.48 L312.61 69.48 L313.05 69.49 L313.49 69.49 L313.93 69.50 L314.37 69.50 L314.81 69.50 L315.26 69.51 L315.70 69.51 L316.14 69.52 L316.58 69.52 L317.02 69.53 L317.46 69.53 L317.90 69.54 L318.34 69.54 L318.78 69.55 L319.23 69.55 L319.67 69.56 L320.11 69.56 L320.55 69.57 L320.99 69.57 L321.43 69.58 L321.87 69.59 L322.31 69.59 L322.75 69.60 L323.20 69.60 L323.64 69.61 L324.08 69.62 L324.52 69.63 L324.96 69.63 L325.40 69.64 L325.84 69.65 L326.28 69.65 L326.72 69.66 L327.17 69.67 L327.61 69.68 L328.05 69.69 L328.49 69.70 L328.93 69.70 L329.37 69.71 L329.81 69.72 L330.25 69.73 L330.69 69.74 L331.14 69.75 L331.58 69.76 L332.02 69.77 L332.46 69.78 L332.90 69.79 L333.34 69.80 L333.78 69.82 L334.22 69.83 L334.66 69.84 L335.11 69.85 L335.55 69.86 L335.99 69.88 L336.43 69.89 L336.87 69.90 L337.31 69.92 L337.75 69.93 L338.19 69.94 L338.63 69.96 L339.08 69.97 L339.52 69.99 L339.96 70.01 L340.40 70.02 L340.84 70.04 L341.28 70.05 L341.72 70.07 L342.16 70.09 L342.60 70.11 L343.05 70.13 L343.49 70.14 L343.93 70.16 L344.37 70.18 L344.81 70.20 L345.25 70.22 L345.69 70.24 L346.13 70.27 L346.57 70.29 L347.02 70.31 L347.46 70.33 L347.90 70.36 L348.34 70.38 L348.78 70.41 L349.22 70.43 L349.66 70.46 L350.10 70.48 L350.54 70.51 L350.98 70.54 L351.43 70.57 L351.87 70.60 L352.31 70.63 L352.75 70.66 L353.19 70.69 L353.63 70.72 L354.07 70.75 L354.51 70.79 L354.95 70.82 L355.40 70.86 L355.84 70.89 L356.28 70.93 L356.72 70.97 L357.16 71.01 L357.60 71.04 L358.04 71.09 L358.48 71.13 L358.92 71.17 L359.37 71.21 L359.81 71.26 L360.25 71.30 L360.69 71.35 L361.13 71.39 L361.57 71.44 L362.01 71.49 L362.45 71.54 L362.89 71.60 L363.34 71.65 L363.78 71.70 L364.22 71.76 L364.66 71.82 L365.10 71.87 L365.54 71.93 L365.98 71.99 L366.42 72.06 L366.86 72.12 L367.31 72.19 L367.75 72.25 L368.19 72.32 L368.63 72.39 L369.07 72.46 L369.51 72.54 L369.95 72.61 L370.39 72.69 L370.83 72.77 L371.28 72.85 L371.72 72.93 L372.16 73.01 L372.60 73.10 L373.04 73.19 L373.48 73.28 L373.92 73.37 L374.36 73.47 L374.80 73.56 L375.25 73.66 L375.69 73.76 L376.13 73.87 L376.57 73.97 L377.01 74.08 L377.45 74.19 L377.89 74.31 L378.33 74.42 L378.77 74.54 L379.22 74.67 L379.66 74.79 L380.10 74.92 L380.54 75.05 L380.98 75.18 L381.42 75.32 L381.86 75.46 L382.30 75.60 L382.74 75.75 L383.19 75.90 L383.63 76.05 L384.07 76.21 L384.51 76.37 L384.95 76.54 L385.39 76.70 L385.83 76.88 L386.27 77.05 L386.71 77.23 L387.16 77.42 L387.60 77.61 L388.04 77.80 L388.48 78.00 L388.92 78.20 L389.36 78.41 L389.80 78.62 L390.24 78.84 L390.68 79.06 L391.13 79.29 L391.57 79.52 L392.01 79.76 L392.45 80.00 L392.89 80.25 L393.33 80.51 L393.77 80.77 L394.21 81.04 L394.65 81.31 L395.10 81.59 L395.54 81.88 L395.98 82.17 L396.42 82.47 L396.86 82.78 L397.30 83.09 L397.74 83.41 L398.18 83.74 L398.62 84.08 L399.07 84.42 L399.51 84.78 L399.95 85.14 L400.39 85.51 L400.83 85.88 L401.27 86.27 L401.71 86.67 L402.15 87.07 L402.59 87.49 L403.04 87.91 L403.48 88.35 L403.92 88.79 L404.36 89.24 L404.80 89.71 L405.24 90.19 L405.68 90.67 L406.12 91.17 L406.56 91.68 L407.01 92.20 L407.45 92.74 L407.89 93.29 L408.33 93.85 L408.77 94.42 L409.21 95.00 L409.65 95.60 L410.09 96.22 L410.53 96.85 L410.97 97.49 L411.42 98.15 L411.86 98.82 L412.30 99.51 L412.74 100.21 L413.18 100.93 L413.62 101.67 L414.06 102.43 L414.50 103.20 L414.94 103.99 L415.39 104.80 L415.83 105.63 L416.27 106.48 L416.71 107.35 L417.15 108.23 L417.59 109.14 L418.03 110.07 L418.47 111.03 L418.91 112.00 L419.36 113.00 L419.80 114.02 L420.24 115.06 L420.68 116.13 L421.12 117.22 L421.56 118.34 L422.00 119.48 L422.44 120.66 L422.88 121.85 L423.33 123.08 L423.77 124.34 L424.21 125.62 L424.65 126.94 L425.09 128.28 L425.53 129.66 L425.97 131.07 L426.41 132.51 L426.85 133.98 L427.30 135.49 L427.74 137.04 L428.18 138.62 L428.62 140.24 L429.06 141.90 L429.50 143.59 L429.94 145.32 L430.38 147.10 L430.82 148.92 L431.27 150.77 L431.71 152.68 L432.15 154.62 L432.59 156.62 L433.03 158.65 L433.47 160.74 L433.91 162.88 L434.35 165.06 L434.79 167.30 L435.24 169.58 L435.68 171.92 L436.12 174.32 L436.56 176.77 L437.00 179.28" stroke="#0072BD" stroke-width="1.5"/>
<path d="M261.00 69.32 L261.44 69.32 L261.88 69.32 L262.32 69.32 L262.76 69.32 L263.21 69.32 L263.65 69.32 L264.09 69.32 L264.53 69.32 L264.97 69.32 L265.41 69.32 L265.85 69.32 L266.29 69.32 L266.73 69.32 L267.18 69.32 L267.62 69.32 L268.06 69.32 L268.50 69.32 L268.94 69.32 L269.38 69.32 L269.82 69.32 L270.26 69.32 L270.70 69.32 L271.15 69.32 L271.59 69.32 L272.03 69.32 L272.47 69.32 L272.91 69.32 L273.35 69.32 L273.79 69.32 L274.23 69.32 L274.67 69.32 L275.12 69.32 L275.56 69.32 L276.00 69.32 L276.44 69.32 L276.88 69.32 L277.32 69.32 L277.76 69.32 L278.20 69.32 L278.64 69.32 L279.09 69.32 L279.53 69.32 L279.97 69.32 L280.41 69.32 L280.85 69.32 L281.29 69.32 L281.73 69.32 L282.17 69.32 L282.61 69.32 L283.06 69.32 L283.50 69.32 L283.94 69.32 L284.38 69.32 L284.82 69.32 L285.26 69.32 L285.70 69.32 L286.14 69.32 L286.58 69.32 L287.03 69.32 L287.47 69.32 L287.91 69.32 L288.35 69.32 L288.79 69.32 L289.23 69.32 L289.67 69.32 L290.11 69.32 L290.55 69.32 L290.99 69.31 L291.44 69.31 L291.88 69.31 L292.32 69.31 L292.76 69.31 L293.20 69.31 L293.64 69.31 L294.08 69.31 L294.52 69.31 L294.96 69.31 L295.41 69.31 L295.85 69.31 L296.29 69.31 L296.73 69.31 L297.17 69.31 L297.61 69.31 L298.05 69.31 L298.49 69.31 L298.93 69.31 L299.38 69.31 L299.82 69.31 L300.26 69.31 L300.70 69.31 L301.14 69.31 L301.58 69.31 L302.02 69.31 L302.46 69.31 L302.90 69.31 L303.35 69.31 L303.79 69.31 L304.23 69.31 L304.67 69.31 L305.11 69.31 L305.55 69.31 L305.99 69.31 L306.43 69.31 L306.87 69.31 L307.32 69.31 L307.76 69.31 L308.20 69.31 L308.64 69.31 L309.08 69.31 L309.52 69.31 L309.96 69.31 L310.40 69.31 L310.84 69.31 L311.29 69.31 L311.73 69.31 L312.17 69.30 L312.61 69.30 L313.05 69.30 L313.49 69.30 L313.93 69.30 L314.37 69.30 L314.81 69.30 L315.26 69.30 L315.70 69.30 L316.14 69.30 L316.58 69.30 L317.02 69.30 L317.46 69.30 L317.90 69.30 L318.34 69.30 L318.78 69.30 L319.23 69.30 L319.67 69.30 L320.11 69.30 L320.55 69.30 L320.99 69.30 L321.43 69.30 L321.87 69.29 L322.31 69.29 L322.75 69.29 L323.20 69.29 L323.64 69.29 L324.08 69.29 L324.52 69.29 L324.96 69.29 L325.40 69.29 L325.84 69.29 L326.28 69.29 L326.72 69.29 L327.17 69.29 L327.61 69.29 L328.05 69.28 L328.49 69.28 L328.93 69.28 L329.37 69.28 L329.81 69.28 L330.25 69.28 L330.69 69.28 L331.14 69.28 L331.58 69.28 L332.02 69.28 L332.46 69.28 L332.90 69.27 L333.34 69.27 L333.78 69.27 L334.22 69.27 L334.66 69.27 L335.11 69.27 L335.55 69.27 L335.99 69.27 L336.43 69.27 L336.87 69.26 L337.31 69.26 L337.75 69.26 L338.19 69.26 L338.63 69.26 L339.08 69.26 L339.52 69.26 L339.96 69.25 L340.40 69.25 L340.84 69.25 L341.28 69.25 L341.72 69.25 L342.16 69.25 L342.60 69.25 L343.05 69.24 L343.49 69.24 L343.93 69.24 L344.37 69.24 L344.81 69.24 L345.25 69.23 L345.69 69.23 L346.13 69.23 L346.57 69.23 L347.02 69.23 L347.46 69.22 L347.90 69.22 L348.34 69.22 L348.78 69.22 L349.22 69.21 L349.66 69.21 L350.10 69.21 L350.54 69.21 L350.98 69.20 L351.43 69.20 L351.87 69.20 L352.31 69.20 L352.75 69.19 L353.19 69.19 L353.63 69.19 L354.07 69.18 L354.51 69.18 L354.95 69.18 L355.40 69.17 L355.84 69.17 L356.28 69.17 L356.72 69.16 L357.16 69.16 L357.60 69.16 L358.04 69.15 L358.48 69.15 L358.92 69.14 L359.37 69.14 L359.81 69.14 L360.25 69.13 L360.69 69.13 L361.13 69.12 L361.57 69.12 L362.01 69.11 L362.45 69.11 L362.89 69.10 L363.34 69.10 L363.78 69.09 L364.22 69.09 L364.66 69.08 L365.10 69.08 L365.54 69.07 L365.98 69.07 L366.42 69.06 L366.86 69.05 L367.31 69.05 L367.75 69.04 L368.19 69.03 L368.63 69.03 L369.07 69.02 L369.51 69.01 L369.95 69.01 L370.39 69.00 L370.83 68.99 L371.28 68.98 L371.72 68.98 L372.16 68.97 L372.60 68.96 L373.04 68.95 L373.48 68.94 L373.92 68.93 L374.36 68.92 L374.80 68.92 L375.25 68.91 L375.69 68.90 L376.13 68.89 L376.57 68.88 L377.01 68.87 L377.45 68.86 L377.89 68.84 L378.33 68.83 L378.77 68.82 L379.22 68.81 L379.66 68.80 L380.10 68.79 L380.54 68.77 L380.98 68.76 L381.42 68.75 L381.86 68.73 L382.30 68.72 L382.74 68.71 L383.19 68.69 L383.63 68.68 L384.07 68.66 L384.51 68.65 L384.95 68.63 L385.39 68.62 L385.83 68.60 L386.27 68.58 L386.71 68.57 L387.16 68.55 L387.60 68.53 L388.04 68.51 L388.48 68.49 L388.92 68.47 L389.36 68.45 L389.80 68.43 L390.24 68.41 L390.68 68.39 L391.13 68.37 L391.57 68.35 L392.01 68.33 L392.45 68.30 L392.89 68.28 L393.33 68.25 L393.77 68.23 L394.21 68.20 L394.65 68.18 L395.10 68.15 L395.54 68.12 L395.98 68.10 L396.42 68.07 L396.86 68.04 L397.30 68.01 L397.74 67.98 L398.18 67.95 L398.62 67.91 L399.07 67.88 L399.51 67.85 L399.95 67.81 L400.39 67.78 L400.83 67.74 L401.27 67.70 L401.71 67.67 L402.15 67.63 L402.59 67.59 L403.04 67.55 L403.48 67.51 L403.92 67.46 L404.36 67.42 L404.80 67.38 L405.24 67.33 L405.68 67.28 L406.12 67.24 L406.56 67.19 L407.01 67.14 L407.45 67.09 L407.89 67.04 L408.33 66.98 L408.77 66.93 L409.21 66.87 L409.65 66.82 L410.09 66.76 L410.53 66.70 L410.97 66.64 L411.42 66.57 L411.86 66.51 L412.30 66.44 L412.74 66.38 L413.18 66.31 L413.62 66.24 L414.06 66.16 L414.50 66.09 L414.94 66.02 L415.39 65.94 L415.83 65.86 L416.27 65.78 L416.71 65.70 L417.15 65.61 L417.59 65.52 L418.03 65.44 L418.47 65.35 L418.91 65.25 L419.36 65.16 L419.80 65.06 L420.24 64.96 L420.68 64.86 L421.12 64.75 L421.56 64.65 L422.00 64.54 L422.44 64.43 L422.88 64.31 L423.33 64.20 L423.77 64.08 L424.21 63.95 L424.65 63.83 L425.09 63.70 L425.53 63.57 L425.97 63.44 L426.41 63.30 L426.85 63.16 L427.30 63.01 L427.74 62.87 L428.18 62.72 L428.62 62.56 L429.06 62.40 L429.50 62.24 L429.94 62.08 L430.38 61.91 L430.82 61.73 L431.27 61.56 L431.71 61.38 L432.15 61.19 L432.59 61.00 L433.03 60.81 L433.47 60.61 L433.91 60.40 L434.35 60.20 L434.79 59.98 L435.24 59.76 L435.68 59.54 L436.12 59.31 L436.56 59.08 L437.00 58.84" stroke="#D95319" stroke-width="1.15" stroke-dasharray="2.2 1.1 0.7 1.1"/>
</g>
<rect x="261.0" y="39.8" width="176.0" height="147.60000000000002" fill="none" stroke="#939393" stroke-width="1.2"/>
<path d="M305.00 187.4 v-1.8 M305.00 39.8 v1.8 M349.00 187.4 v-1.8 M349.00 39.8 v1.8 M393.00 187.4 v-1.8 M393.00 39.8 v1.8 M261.0 69.32 h1.8 M437.0 69.32 h-1.8 M261.0 98.84 h1.8 M437.0 98.84 h-1.8 M261.0 128.36 h1.8 M437.0 128.36 h-1.8 M261.0 157.88 h1.8 M437.0 157.88 h-1.8" stroke="#939393" stroke-width="0.8" fill="none"/>
<g font-size="9.7" fill="#111" stroke="#111" stroke-width="0.15">
<text transform="translate(256.9 43.60) scale(0.97 1.12)" text-anchor="end">200</text>
<text transform="translate(256.9 73.26) scale(0.97 1.12)" text-anchor="end">0</text>
<text transform="translate(256.9 102.92) scale(0.97 1.12)" text-anchor="end">-200</text>
<text transform="translate(256.9 132.58) scale(0.97 1.12)" text-anchor="end">-400</text>
<text transform="translate(256.9 162.24) scale(0.97 1.12)" text-anchor="end">-600</text>
<text transform="translate(256.9 191.90) scale(0.97 1.12)" text-anchor="end">-800</text>
<text transform="translate(250.80 203.8) scale(0.97 1.12)">10<tspan font-size="7.3" dy="-4.4" dx="0.8">16</tspan></text>
<text transform="translate(339.50 203.8) scale(0.97 1.12)">10<tspan font-size="7.3" dy="-4.4" dx="0.8">18</tspan></text>
<text transform="translate(427.90 203.8) scale(0.97 1.12)">10<tspan font-size="7.3" dy="-4.4" dx="0.8">20</tspan></text>
</g>
<text transform="translate(329.4 220.5) scale(1 1.04)" font-size="11.3" fill="#111">n (cm<tspan font-size="8.2" dy="-5.6">-3</tspan><tspan dy="5.6">)</tspan></text>
<text transform="translate(234.2 114.2) rotate(-90)" font-size="8.6" text-anchor="middle" fill="#111">ϵ</text>
<text transform="translate(221.8 40.2) scale(0.98 1)" font-size="13.7" fill="#000" stroke="#000" stroke-width="0.3">(b)</text>
<rect x="274.5" y="138.5" width="25" height="24" fill="#fff" stroke="#808080" stroke-width="1"/>
<path d="M276 145.5 H285.4" stroke="#0072BD" stroke-width="1.5"/>
<path d="M276 156.6 H285.4" stroke="#D95319" stroke-width="1.1" stroke-dasharray="2.2 1.1 0.7 1.1"/>
<text transform="translate(287 149) scale(1 1.08)" font-size="8.8" fill="#000" stroke="#000" stroke-width="0.15">Re</text>
<text transform="translate(287 160.1) scale(1 1.08)" font-size="8.8" fill="#000" stroke="#000" stroke-width="0.15">Im</text>
</svg>
</body></html>
